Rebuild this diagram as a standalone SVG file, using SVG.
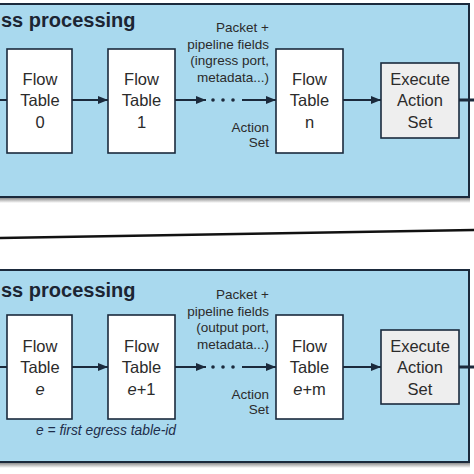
<svg xmlns="http://www.w3.org/2000/svg" width="474" height="474" viewBox="0 0 474 474">
<defs>
<marker id="ah" viewBox="0 0 10 8" refX="10" refY="4" markerWidth="10" markerHeight="8" markerUnits="userSpaceOnUse" orient="auto">
<path d="M0,0 L10,4 L0,8 z" fill="#1b2a3c"/>
</marker>
<linearGradient id="sh" x1="0" y1="0" x2="0" y2="1">
<stop offset="0" stop-color="#777"/>
<stop offset="1" stop-color="#fff"/>
</linearGradient>
<style>
.panel{fill:#a9d9ee;stroke:#1b2a3c;stroke-width:2}
.box{fill:#fff;stroke:#1b2a3c;stroke-width:1.6}
.exec{fill:#eeeeee;stroke:#1b2a3c;stroke-width:1.6}
.lbl{font-family:"Liberation Sans",Arial,sans-serif;font-size:16.5px;fill:#2b2b2b;text-anchor:middle}
.side{font-family:"Liberation Sans",Arial,sans-serif;font-size:13.5px;fill:#2b2b2b;text-anchor:end}
.title{font-family:"Liberation Sans",Arial,sans-serif;font-size:20px;font-weight:bold;fill:#1c2533}
.note{font-family:"Liberation Sans",Arial,sans-serif;font-size:13.8px;font-style:italic;fill:#1e2d4a;text-anchor:middle}
.c{stroke:#1b2a3c;stroke-width:2;fill:none}
.dot{fill:#1b2a3c}
</style>
</defs>
<rect x="0" y="0" width="474" height="474" fill="#fff"/>
<g id="ingress-panel">
<rect x="0" y="197" width="470" height="6" fill="url(#sh)"/>
<rect class="panel" x="-10" y="4" width="479" height="193"/>
<text class="title" x="1" y="27">ss processing</text>
</g>
<g id="separator">
<line x1="0" y1="238" x2="474" y2="230" stroke="#111" stroke-width="2.5"/>
</g>
<g id="egress-panel">
<rect x="0" y="462" width="470" height="6" fill="url(#sh)"/>
<rect class="panel" x="-10" y="270" width="479" height="192"/>
<text class="title" x="1" y="297">ss processing</text>
<text class="note" x="106" y="435">e = first egress table-id</text>
</g>
<g id="ft0"><rect class="box" x="7" y="49" width="65" height="104"/>
<text class="lbl" x="40" y="85">Flow</text><text class="lbl" x="40" y="106">Table</text><text class="lbl" x="40" y="128">0</text></g>
<g id="ft1"><rect class="box" x="108" y="49" width="67" height="104"/>
<text class="lbl" x="141.5" y="85">Flow</text><text class="lbl" x="141.5" y="106">Table</text><text class="lbl" x="141.5" y="128">1</text></g>
<g id="ftn"><rect class="box" x="276" y="49" width="67" height="104"/>
<text class="lbl" x="309.5" y="85">Flow</text><text class="lbl" x="309.5" y="106">Table</text><text class="lbl" x="309.5" y="128">n</text></g>
<g id="exec1"><rect class="exec" x="381" y="63" width="78" height="75"/>
<text class="lbl" x="420" y="85">Execute</text><text class="lbl" x="420" y="106">Action</text><text class="lbl" x="420" y="128">Set</text></g>
<g id="info1">
<text class="side" x="269" y="32">Packet +</text>
<text class="side" x="269" y="48.5">pipeline fields</text>
<text class="side" x="269" y="65">(ingress port,</text>
<text class="side" x="269" y="81.5">metadata...)</text>
<text class="side" x="269" y="132">Action</text>
<text class="side" x="269" y="147">Set</text>
</g>
<g id="fte"><rect class="box" x="7" y="315" width="65" height="104"/>
<text class="lbl" x="40" y="352">Flow</text><text class="lbl" x="40" y="373">Table</text><text class="lbl" x="40" y="395" font-style="italic">e</text></g>
<g id="fte1"><rect class="box" x="108" y="315" width="67" height="104"/>
<text class="lbl" x="141.5" y="352">Flow</text><text class="lbl" x="141.5" y="373">Table</text><text class="lbl" x="141.5" y="395"><tspan font-style="italic">e</tspan>+1</text></g>
<g id="ftem"><rect class="box" x="276" y="315" width="67" height="104"/>
<text class="lbl" x="309.5" y="352">Flow</text><text class="lbl" x="309.5" y="373">Table</text><text class="lbl" x="309.5" y="395"><tspan font-style="italic">e</tspan>+m</text></g>
<g id="exec2"><rect class="exec" x="381" y="330" width="78" height="74"/>
<text class="lbl" x="420" y="352">Execute</text><text class="lbl" x="420" y="373">Action</text><text class="lbl" x="420" y="395">Set</text></g>
<g id="info2">
<text class="side" x="269" y="299">Packet +</text>
<text class="side" x="269" y="315.5">pipeline fields</text>
<text class="side" x="269" y="332">(output port,</text>
<text class="side" x="269" y="348.5">metadata...)</text>
<text class="side" x="269" y="399">Action</text>
<text class="side" x="269" y="414">Set</text>
</g>
<g id="connectors">
<line class="c" x1="0" y1="100" x2="7" y2="100"/>
<line class="c" x1="72" y1="100" x2="108" y2="100" marker-end="url(#ah)"/>
<line class="c" x1="175" y1="100" x2="206" y2="100" marker-end="url(#ah)"/>
<circle class="dot" cx="213" cy="100" r="1.8"/><circle class="dot" cx="223" cy="100" r="1.8"/><circle class="dot" cx="233" cy="100" r="1.8"/>
<line class="c" x1="242" y1="100" x2="276" y2="100" marker-end="url(#ah)"/>
<line class="c" x1="343" y1="100" x2="381" y2="100" marker-end="url(#ah)"/>
<line x1="459" y1="100" x2="474" y2="100" stroke="#1b2a3c" stroke-width="3"/>
<line class="c" x1="0" y1="367" x2="7" y2="367"/>
<line class="c" x1="72" y1="367" x2="108" y2="367" marker-end="url(#ah)"/>
<line class="c" x1="175" y1="367" x2="206" y2="367" marker-end="url(#ah)"/>
<circle class="dot" cx="213" cy="367" r="1.8"/><circle class="dot" cx="223" cy="367" r="1.8"/><circle class="dot" cx="233" cy="367" r="1.8"/>
<line class="c" x1="242" y1="367" x2="276" y2="367" marker-end="url(#ah)"/>
<line class="c" x1="343" y1="367" x2="381" y2="367" marker-end="url(#ah)"/>
<line x1="459" y1="367" x2="474" y2="367" stroke="#1b2a3c" stroke-width="3"/>
</g>
</svg>
